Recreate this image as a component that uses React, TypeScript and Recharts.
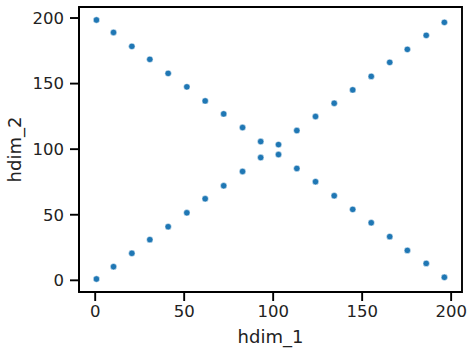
import { ScatterChart, Scatter, XAxis, YAxis, ReferenceArea } from "recharts";

// values
const hdim1 = [0.7, 10.3, 20.6, 30.7, 41.0, 51.5, 61.8, 72.2, 82.8, 93.0, 103.0, 113.3, 123.8, 134.3, 144.7, 155.1, 165.5, 175.4, 186.0, 196.2];
const hdim2Down = [198.5, 189.0, 178.4, 168.5, 157.8, 147.5, 136.8, 126.9, 116.5, 105.8, 95.9, 85.3, 75.2, 64.5, 54.1, 43.9, 33.3, 22.8, 12.9, 2.3];
const hdim2Up = [1.0, 10.4, 20.6, 31.0, 40.9, 51.5, 62.2, 72.1, 83.0, 93.6, 103.5, 114.2, 124.9, 135.0, 145.2, 155.5, 166.2, 176.1, 186.8, 196.7];
const xTicks = [0, 50, 100, 150, 200];
const yTicks = [0, 50, 100, 150, 200];

const xDomain: [number, number] = [-9.1, 206.1];
const yDomain: [number, number] = [-8.9, 208.4];

const points = [
  ...hdim1.map((x, i) => ({ x, y: hdim2Down[i] })),
  ...hdim1.map((x, i) => ({ x, y: hdim2Up[i] })),
];

const ink = "#000";
const text = "#222";

const Dot = (p: any) => (
  <circle cx={p.cx} cy={p.cy} r={3.2} fill="#1f77b4" stroke="#fff" strokeWidth={0.5} />
);

export default function App() {
  return (
    <div style={{ position: "absolute", left: 0, top: 0, fontFamily: "DejaVu Sans" }}>
      <ScatterChart width={474} height={355} margin={{ top: 7, right: 12, bottom: 0, left: 0 }}>
        <XAxis
          type="number"
          dataKey="x"
          domain={xDomain}
          ticks={xTicks}
          allowDataOverflow
          height={63}
          tickSize={9}
          tickMargin={4}
          axisLine={{ stroke: ink, strokeWidth: 1.9 }}
          tickLine={{ stroke: ink, strokeWidth: 1.9 }}
          tick={{ fontSize: 16.5, fill: text }}
          label={{ value: "hdim_1", position: "insideBottom", offset: 12, fontSize: 18, fill: text }}
        />
        <YAxis
          type="number"
          dataKey="y"
          domain={yDomain}
          ticks={yTicks}
          allowDataOverflow
          width={79}
          tickSize={9}
          tickMargin={6}
          axisLine={{ stroke: ink, strokeWidth: 1.9 }}
          tickLine={{ stroke: ink, strokeWidth: 1.9 }}
          tick={{ fontSize: 16.5, fill: text }}
          label={{
            content: ({ viewBox }: any) => {
              const cy = viewBox.y + viewBox.height / 2;
              return (
                <text x={21} y={cy} transform={`rotate(-90, 21, ${cy})`} textAnchor="middle" fontSize={18} fill={text}>
                  hdim_2
                </text>
              );
            },
          }}
        />
        <ReferenceArea
          x1={xDomain[0]}
          x2={xDomain[1]}
          y1={yDomain[0]}
          y2={yDomain[1]}
          fill="none"
          stroke={ink}
          strokeWidth={1.9}
          ifOverflow="visible"
        />
        <Scatter data={points} shape={Dot} isAnimationActive={false} />
      </ScatterChart>
    </div>
  );
}
